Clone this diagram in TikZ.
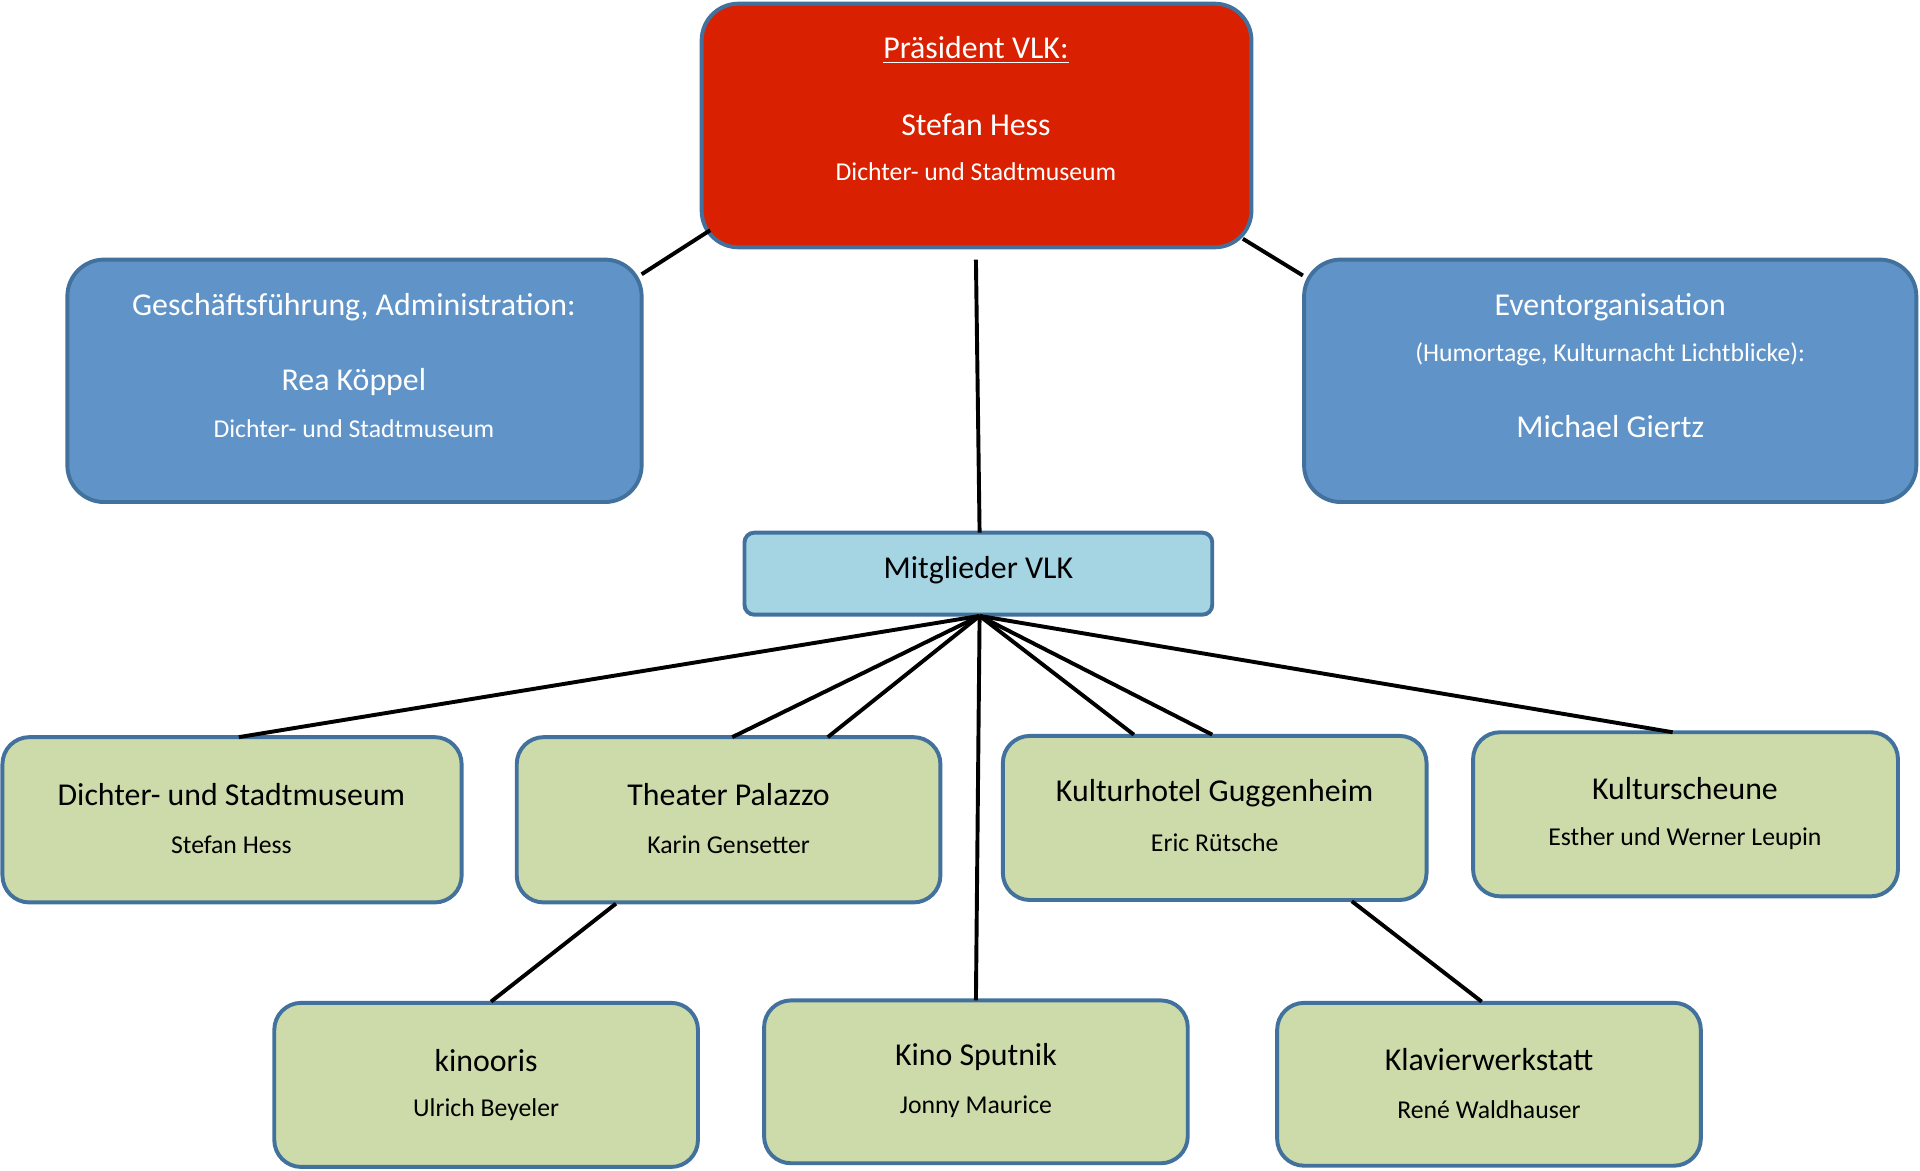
\documentclass[tikz,border=0pt]{standalone}
\usepackage{fontspec}
\setmainfont{Carlito}
\begin{document}
\begin{tikzpicture}[x=0.5pt,y=-0.5pt,
 box/.style={draw=bordc,line width=1.6pt,rounded corners=15pt,inner sep=0pt},
 red/.style={box,fill=redc},blue/.style={box,fill=bluec},
 green/.style={box,fill=greenc},
 big/.style={font=\fontsize{13}{15}\selectfont},
 small/.style={font=\fontsize{10.5}{12}\selectfont},
 wt/.style={text=white},
 ln/.style={line width=1.6pt,black}]
\definecolor{bordc}{HTML}{41719C}
\definecolor{redc}{HTML}{D92000}
\definecolor{bluec}{HTML}{6094C8}
\definecolor{lbluec}{HTML}{A5D5E3}
\definecolor{greenc}{HTML}{CDDBAA}
\useasboundingbox (0,0) rectangle (1568,956);
% boxes
\node[red,minimum width=224.5pt,minimum height=99.5pt] (pres) at (797.5,102.5) {};
\node[blue,minimum width=234.5pt,minimum height=99pt] (gf) at (289.5,311) {};
\node[blue,minimum width=250pt,minimum height=99pt] (ev) at (1315,311) {};
\node[box,fill=lbluec,rounded corners=4pt,minimum width=191pt,minimum height=33.5pt] (mit) at (799,468.5) {};
\node[green,rounded corners=11pt,minimum width=187.5pt,minimum height=67.5pt] (dsm) at (189.5,669.5) {};
\node[green,rounded corners=11pt,minimum width=173pt,minimum height=67.5pt] (tp) at (595,669.5) {};
\node[green,rounded corners=11pt,minimum width=173pt,minimum height=67pt] (kg) at (992,668) {};
\node[green,rounded corners=11pt,minimum width=173.5pt,minimum height=67pt] (ks) at (1376.5,665) {};
\node[green,rounded corners=11pt,minimum width=173pt,minimum height=67pt] (ko) at (397,886) {};
\node[green,rounded corners=11pt,minimum width=173pt,minimum height=66.5pt] (sp) at (797,883.5) {};
\node[green,rounded corners=11pt,minimum width=173pt,minimum height=66.5pt] (kw) at (1216,885.5) {};
% texts
\node[big,wt] (t1) at (797,41) {\underline{Präsident VLK:}};
\node[big,wt] (t2) at (797,102) {Stefan Hess};
\node[small,wt] (t3) at (797,140) {Dichter- und Stadtmuseum};
\node[big,wt] (t4) at (289,251) {Geschäftsführung, Administration:};
\node[big,wt] (t5) at (289,312) {Rea Köppel};
\node[small,wt] (t6) at (289,350) {Dichter- und Stadtmuseum};
\node[big,wt] (t7) at (1315,251) {Eventorganisation};
\node[small,wt] (t8) at (1315,289) {(Humortage, Kulturnacht Lichtblicke):};
\node[big,wt] (t9) at (1315,348) {Michael Giertz};
\node[big] (t10) at (799,466) {Mitglieder VLK};
\node[big] (t11) at (189,649) {Dichter- und Stadtmuseum};
\node[small] (t12) at (189,690) {Stefan Hess};
\node[big] (t13) at (595,649) {Theater Palazzo};
\node[small] (t14) at (595,690) {Karin Gensetter};
\node[big] (t15) at (992,648) {Kulturhotel Guggenheim};
\node[small] (t16) at (992,688) {Eric Rütsche};
\node[big] (t17) at (1376,644) {Kulturscheune};
\node[small] (t18) at (1376,685) {Esther und Werner Leupin};
\node[big] (t19) at (397,866) {kinooris};
\node[small] (t20) at (397,906) {Ulrich Beyeler};
\node[big] (t21) at (797,863) {Kino Sputnik};
\node[small] (t22) at (797,904) {Jonny Maurice};
\node[big] (t23) at (1216,865) {Klavierwerkstatt};
\node[small] (t24) at (1216,906) {René Waldhauser};
% connector ends
\coordinate (a1) at (580,188); \coordinate (a2) at (524,224);
\coordinate (b1) at (1015,195); \coordinate (b2) at (1064,225);
\coordinate (c1) at (797,212); \coordinate (c2) at (800,435);
\coordinate (m) at (800,503);
\coordinate (d1) at (195,602); \coordinate (d2) at (598,602);
\coordinate (d3) at (676,602); \coordinate (d4) at (926,600);
\coordinate (d5) at (990,600); \coordinate (d6) at (1366,598);
\coordinate (d7) at (797,817);
\coordinate (e1) at (503,738); \coordinate (e2) at (401,818);
\coordinate (f1) at (1104,736); \coordinate (f2) at (1210,818);
\draw[ln] (a1)--(a2); \draw[ln] (b1)--(b2); \draw[ln] (c1)--(c2);
\foreach \d in {d1,d2,d3,d4,d5,d6,d7} \draw[ln] (m)--(\d);
\draw[ln] (e1)--(e2); \draw[ln] (f1)--(f2);
\end{tikzpicture}
\end{document}
